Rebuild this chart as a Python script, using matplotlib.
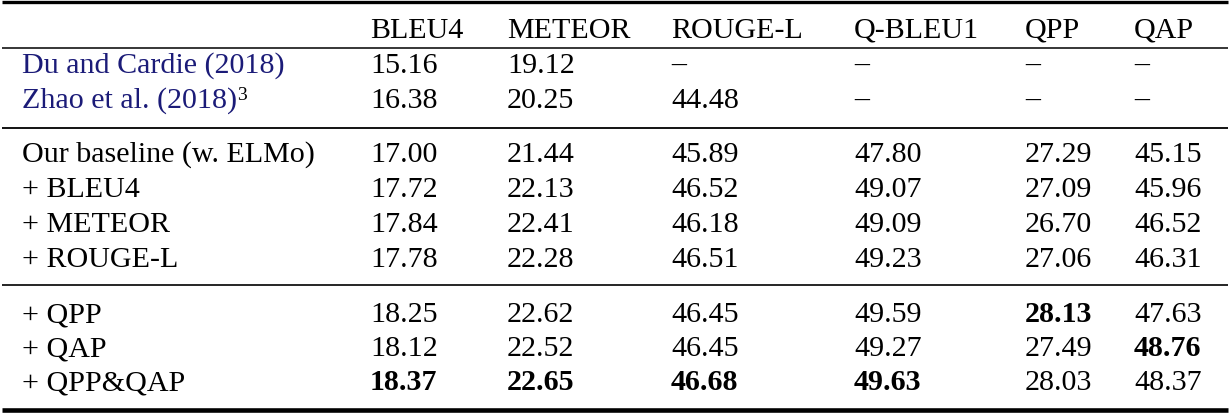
import matplotlib.pyplot as plt

# table contents
columns = ['BLEU4', 'METEOR', 'ROUGE-L', 'Q-BLEU1', 'QPP', 'QAP']
prior_names = ['Du and Cardie (2018)', 'Zhao et al. (2018)']
prior_vals = [['15.16', '19.12', '–', '–', '–', '–'],
              ['16.38', '20.25', '44.48', '–', '–', '–']]
base_names = ['Our baseline (w. ELMo)', '+ BLEU4', '+ METEOR', '+ ROUGE-L']
base_vals = [['17.00', '21.44', '45.89', '47.80', '27.29', '45.15'],
             ['17.72', '22.13', '46.52', '49.07', '27.09', '45.96'],
             ['17.84', '22.41', '46.18', '49.09', '26.70', '46.52'],
             ['17.78', '22.28', '46.51', '49.23', '27.06', '46.31']]
ours_names = ['+ QPP', '+ QAP', '+ QPP&QAP']
ours_vals = [['18.25', '22.62', '46.45', '49.59', '28.13', '47.63'],
             ['18.12', '22.52', '46.45', '49.27', '27.49', '48.76'],
             ['18.37', '22.65', '46.68', '49.63', '28.03', '48.37']]
# bold cells in the last block (row, col)
bold_cells = [(0, 4), (1, 5), (2, 0), (2, 1), (2, 2), (2, 3)]

plt.rcParams['font.family'] = ['Liberation Serif', 'DejaVu Serif']
fs = 21.6
cite_color = '#1b1b78'

fig = plt.figure(figsize=(12.31, 4.15), dpi=100)
ax = fig.add_axes([0, 0, 1, 1])
ax.set_xlim(0, 1231)
ax.set_ylim(415, 0)
ax.axis('off')

col_x = [370, 507, 671, 854, 1025, 1134]
label_x = 22

# booktabs style rules
ax.hlines(1.6, 2, 1228, color='black', lw=2.4)
ax.hlines(48.5, 2, 1228, color='black', lw=1.1)
ax.hlines(128, 2, 1228, color='black', lw=1.3)
ax.hlines(285, 2, 1228, color='black', lw=1.2)
ax.hlines(410, 2, 1228, color='black', lw=3.3)

# header
for x, c in zip(col_x, columns):
    ax.text(x, 38, c, fontsize=fs, va='baseline', ha='left')

# prior work
prior_y = [73, 108]
for name, vals, y in zip(prior_names, prior_vals, prior_y):
    t = ax.text(label_x, y, name, fontsize=fs, va='baseline', ha='left', color=cite_color)
    for x, v in zip(col_x, vals):
        ax.text(x, y, v, fontsize=fs, va='baseline', ha='left')

# footnote mark right after "Zhao et al. (2018)"
fig.canvas.draw()
bb = t.get_window_extent().transformed(ax.transData.inverted())
ax.text(bb.x1, prior_y[1] - 8, '3', fontsize=fs * 0.65, va='baseline', ha='left')

# baseline block
base_y = [162, 197, 232, 267]
for name, vals, y in zip(base_names, base_vals, base_y):
    ax.text(label_x, y, name, fontsize=fs, va='baseline', ha='left')
    for x, v in zip(col_x, vals):
        ax.text(x, y, v, fontsize=fs, va='baseline', ha='left')

# our models
ours_y = [322, 356, 390]
for i, (name, vals, y) in enumerate(zip(ours_names, ours_vals, ours_y)):
    ax.text(label_x, y, name, fontsize=fs, va='baseline', ha='left')
    for j, (x, v) in enumerate(zip(col_x, vals)):
        w = 'bold' if (i, j) in bold_cells else 'normal'
        ax.text(x, y, v, fontsize=fs, va='baseline', ha='left', fontweight=w)

fig.savefig('out.png', dpi=100)
